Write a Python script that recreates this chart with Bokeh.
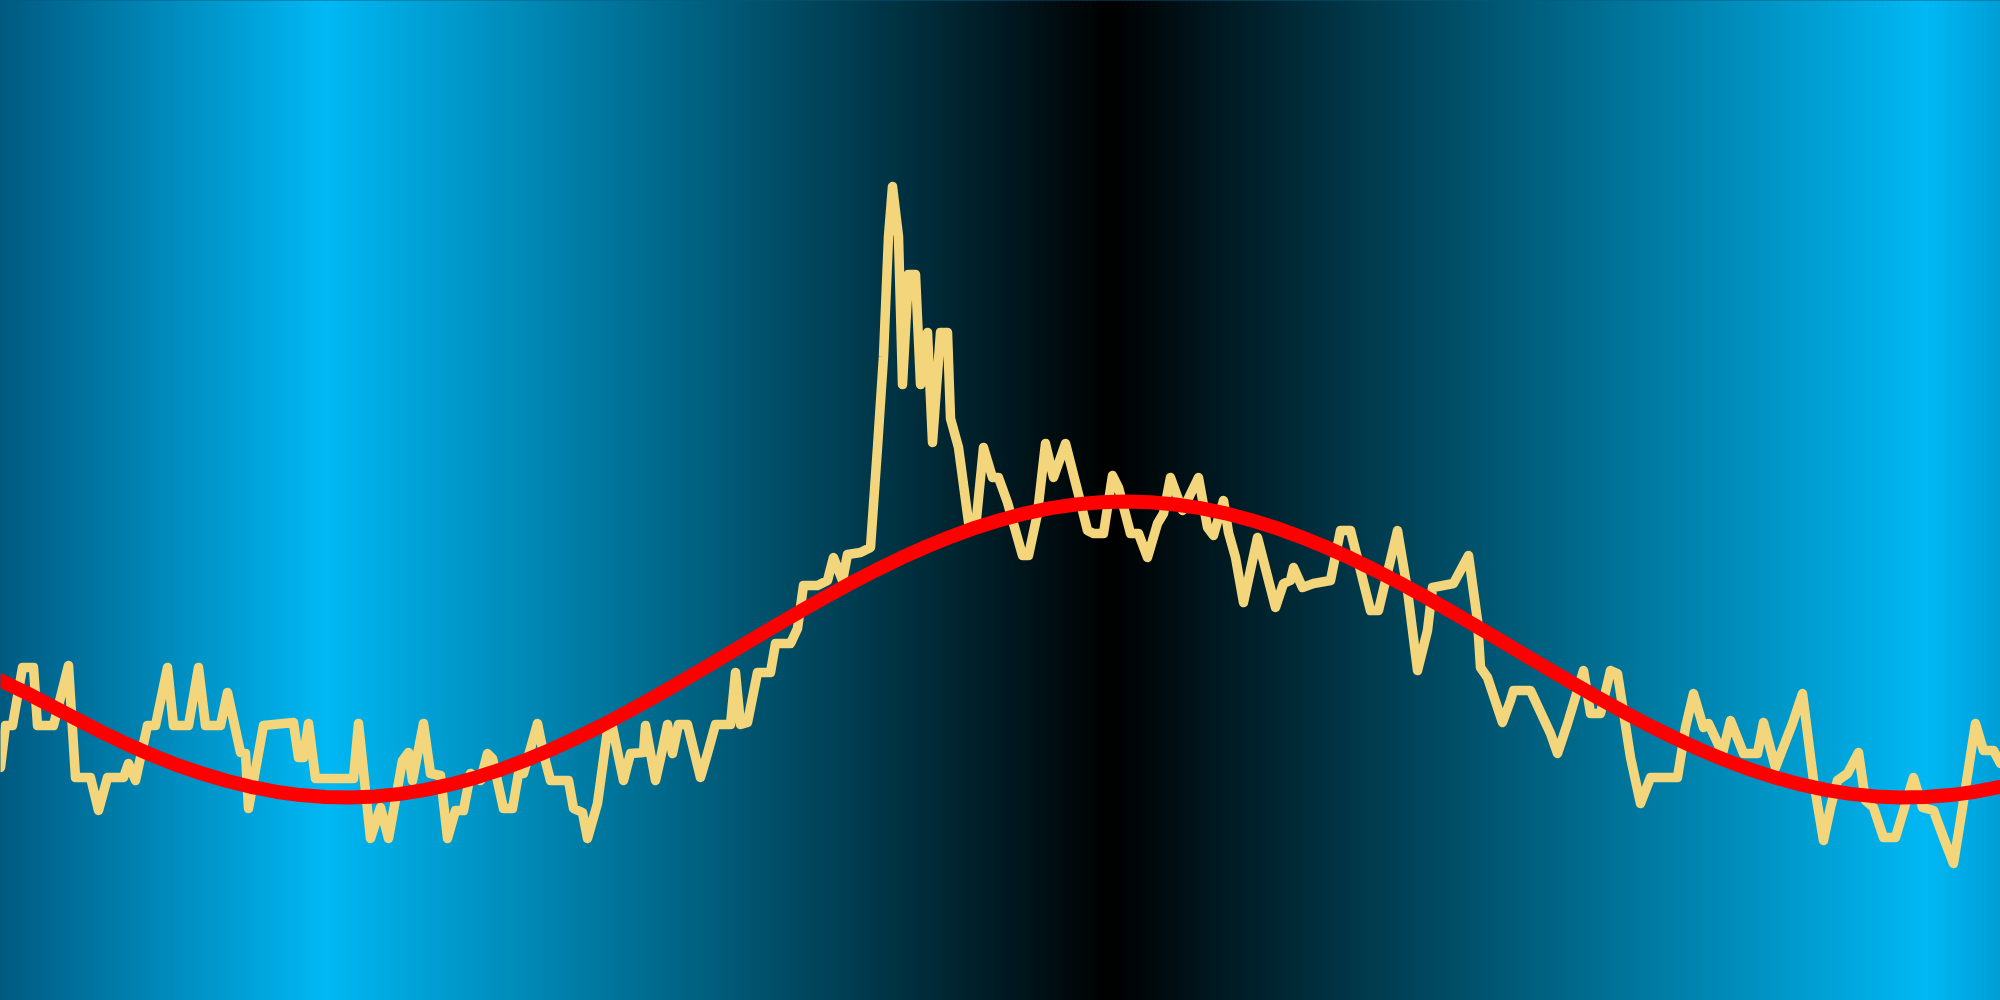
import numpy as np
from bokeh.plotting import figure
from bokeh.models import Range1d, GlobalInlineStyleSheet
from bokeh.embed import file_html
from bokeh.resources import INLINE

# ---- data ----
noisy_x = [0, 5, 12, 22, 33, 37, 53, 68, 75, 90, 98, 107, 123, 128, 135, 147, 155, 167, 173, 188,
           198, 205, 220, 227, 240, 245, 248, 263, 293, 298, 303, 308, 315,
           330, 353, 358, 370, 380, 388, 402, 408, 412, 423, 430, 440, 447, 455, 463, 470, 480,
           487, 492, 503, 512, 518, 523, 537, 543, 550, 568, 573, 582, 587, 597, 607, 612, 623,
           630, 643, 645, 655,
           660, 667, 672, 678, 687, 700, 707, 715, 730, 735, 740, 747, 757, 770, 775, 790, 797,
           803, 817, 827, 833, 842, 847, 860, 870, 877, 883, 888, 892, 898, 902, 908, 915, 920,
           927, 932, 940, 947, 950, 958, 969, 975, 983, 992, 998, 1007, 1022, 1028, 1037, 1045,
           1053, 1065, 1077, 1087, 1093, 1103, 1112, 1118, 1130, 1138, 1147, 1157, 1163, 1170,
           1182, 1198, 1207, 1213, 1223, 1228, 1235, 1243, 1257, 1275, 1283, 1290, 1293, 1302,
           1313, 1330,
           1340, 1350, 1370, 1378, 1397, 1407, 1417, 1427, 1432, 1453, 1468, 1477, 1480, 1487,
           1502, 1510, 1513, 1530, 1550, 1557, 1567, 1583, 1590, 1600, 1610, 1617, 1630, 1640, 1650,
           1653, 1677, 1685, 1693, 1703, 1708, 1722, 1730, 1743, 1757, 1763, 1775, 1792, 1802,
           1813, 1823, 1830, 1837, 1847, 1858, 1865, 1873, 1883, 1895, 1913, 1922, 1933, 1943,
           1953, 1962, 1975, 1983, 1993, 2000]
noisy_y = [233, 275, 275, 333, 333, 275, 275, 335, 223, 223, 190, 223, 223, 237, 220, 275, 275, 333, 275, 275,
           333, 275, 275, 308, 248, 247, 192, 275, 278, 243, 243, 277, 222,
           222, 222, 277, 162, 193, 162, 240, 248, 220, 277, 227, 225, 162, 190, 190, 227, 220,
           247, 242, 192, 192, 227, 227, 277, 247, 220, 220, 192, 188, 162, 197, 270, 273, 220,
           247, 248, 275, 220,
           242, 276, 247, 276, 276, 223, 247, 276, 276, 328, 276, 278, 328, 328, 357, 357, 372,
           415, 415, 420, 443, 420, 446, 448, 453, 553, 644, 764, 814, 764, 616, 726, 726, 616,
           668, 558, 668, 668, 582, 553, 471, 472, 553, 523, 523, 498, 445, 445, 487, 557,
           523, 557, 510, 470, 467, 467, 525, 513, 467, 467, 443, 477, 487, 523,
           490, 523, 473, 465, 500, 468, 443, 398, 463, 393, 417, 420, 433, 413,
           417, 420,
           470, 470, 390, 390, 470, 410, 330, 370, 413, 417, 445, 380, 333, 323,
           278, 300, 310, 310, 267, 247, 277, 330, 287, 287, 330, 327, 243, 197, 223,
           223, 223, 273, 307, 273, 277, 247, 280, 247, 247, 278, 233, 277, 307,
           220, 160, 193, 220, 227, 248, 200, 193, 163, 163, 223, 193, 190, 163,
           137, 193, 277, 250, 250, 237]

smooth_x = list(range(0, 2001, 25))
smooth_y = [320, 308, 295, 282, 269, 257, 246, 236, 227.5, 220, 213.7, 208.8, 205.4, 203.5, 203,
            204.1, 206.6, 210.6, 216.1, 222.8, 230.9, 240.2, 250.6, 262.1, 274.4, 287.6, 301.3,
            315.6, 330.2, 345, 359.9, 374.7, 389.3, 403.5, 417.1, 430.1, 442.3, 453.5, 463.7,
            472.8, 480.6, 487.2, 492.3, 496, 498.2, 499, 498.2, 496, 492.3, 487.2, 480.6, 472.8,
            463.7, 453.5, 442.3, 430.1, 417.1, 403.5, 389.3, 374.7, 359.9, 345, 330.2, 315.6,
            301.3, 287.6, 274.4, 262.1, 250.6, 240.2, 230.9, 222.8, 216.1, 210.6, 206.6, 204.1,
            203, 203.5, 205.4, 208.8, 213.7]

# ---- background gradient stops (style) ----
stop_x = [0, 325, 1110, 1925, 2000]
stop_rgb = [(0, 90, 128), (0, 184, 244), (0, 0, 0), (0, 184, 244), (0, 158, 214)]

W, H = 2000, 1000
p = figure(width=W, height=H, x_range=Range1d(0, 2000), y_range=Range1d(0, 1000),
           output_backend="svg", toolbar_location=None, min_border=0,
           background_fill_color="#005a80", border_fill_color="#005a80")
p.stylesheets = [GlobalInlineStyleSheet(css="html, body { margin: 0; padding: 0; overflow: hidden; background: #005a80; }")]
p.axis.visible = False
p.grid.visible = False
p.outline_line_color = None

step = 4
lefts = np.arange(0, 2000, step).astype(float)
centers = lefts + step / 2
r = np.interp(centers, stop_x, [c[0] for c in stop_rgb])
g = np.interp(centers, stop_x, [c[1] for c in stop_rgb])
b = np.interp(centers, stop_x, [c[2] for c in stop_rgb])
cols = ["#%02x%02x%02x" % (int(round(a)), int(round(bb)), int(round(c))) for a, bb, c in zip(r, g, b)]
rights = lefts + step + 0.6
lefts[0] = -20
rights[-1] = 2020
p.quad(left=lefts, right=rights, bottom=-20, top=1020, fill_color=cols, line_color=None)

p.line(noisy_x, noisy_y, line_color="#f3d57b", line_width=9.5, line_join="round", line_cap="round")
p.line(smooth_x, smooth_y, line_color="#ff0000", line_width=14, line_join="round", line_cap="round")

open("out.html", "w").write(file_html(p, INLINE))
